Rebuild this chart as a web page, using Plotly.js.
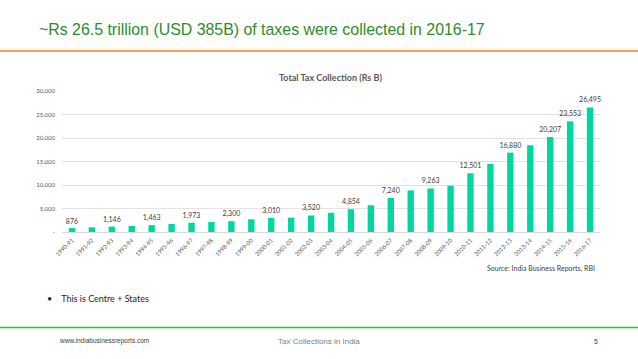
<!DOCTYPE html>
<html>
<head>
<meta charset="utf-8">
<script src="https://cdn.plot.ly/plotly-3.0.1.min.js"></script>
<style>
html,body{margin:0;padding:0;background:#fff;}
#chart{width:638px;height:359px;}
</style>
</head>
<body>
<div id="chart"></div>
<script>
const years = ["1990-91","1991-92","1992-93","1993-94","1994-95","1995-96","1996-97","1997-98","1998-99","1999-00",
  "2000-01","2001-02","2002-03","2003-04","2004-05","2005-06","2006-07","2007-08","2008-09","2009-10",
  "2010-11","2011-12","2012-13","2013-14","2014-15","2015-16","2016-17"];
const taxRsB = [876,1000,1146,1300,1463,1720,1973,2150,2300,2700,
  3010,3050,3520,4080,4854,5700,7240,8850,9263,9850,
  12501,14500,16880,18450,20207,23553,26495];
const labelled = [true,false,true,false,true,false,true,false,true,false,
  true,false,true,false,true,false,true,false,true,false,
  true,false,true,false,true,true,true];
const yTickVals = [0,5000,10000,15000,20000,25000,30000];
const yTickText = ["-","5,000","10,000","15,000","20,000","25,000","30,000"];

const barText = taxRsB.map((v,i)=> labelled[i] ? v.toLocaleString('en-US') : "");

// plot area pixels: x 62..600, y 91..232
const L=62, R=600, T=91, B=232;
const px = x => (x-L)/(R-L);
const py = y => (B-y)/(B-T);

const trace = {
  type:'bar', x:years, y:taxRsB, text:barText, textposition:'outside', constraintext:'none',
  textfont:{family:'Lato, Open Sans, sans-serif', size:7, color:'#404040'},
  marker:{color:'#00D7A0'}, cliponaxis:false, hoverinfo:'none'
};

const layout = {
  width:638, height:359,
  margin:{l:L, r:638-R, t:T, b:359-B, pad:0},
  paper_bgcolor:'#ffffff', plot_bgcolor:'#ffffff',
  showlegend:false, bargap:0.68,
  font:{family:'Lato, Open Sans, sans-serif', color:'#595959'},
  xaxis:{type:'category', tickangle:-45, tickfont:{size:5.8, color:'#595959'},
    showgrid:false, showline:false, ticks:'', automargin:false, ticklabelstandoff:3},
  yaxis:{range:[0,30000], tickvals:yTickVals, ticktext:yTickText,
    tickfont:{size:6, color:'#595959'}, showgrid:true, gridcolor:'#e3e3e3', gridwidth:1,
    zeroline:true, zerolinecolor:'#d9d9d9', zerolinewidth:1, showline:false, ticks:'',
    ticklabelstandoff:6, automargin:false},
  shapes:[
    {type:'line', xref:'paper', yref:'paper', x0:px(0), x1:px(638), y0:py(51), y1:py(51), line:{color:'#FFA04A', width:2}},
    {type:'line', xref:'paper', yref:'paper', x0:px(0), x1:px(638), y0:py(327.5), y1:py(327.5), line:{color:'#22CC22', width:1.5}}
  ],
  annotations:[
    {xref:'paper', yref:'paper', x:px(37), y:py(30), xanchor:'left', yanchor:'middle', showarrow:false,
      text:'~Rs 26.5 trillion (USD 385B) of taxes were collected in 2016-17',
      font:{family:'Liberation Sans, Arial, sans-serif', size:15.9, color:'#2E8B2E'}},
    {xref:'paper', yref:'paper', x:px(330), y:py(77), xanchor:'center', yanchor:'middle', showarrow:false,
      text:'<b>Total Tax Collection (Rs B)</b>',
      font:{family:'Lato, Open Sans, sans-serif', size:9, color:'#595959'}},
    {xref:'paper', yref:'paper', x:px(597), y:py(268), xanchor:'right', yanchor:'middle', showarrow:false,
      text:'Source: India Business Reports, RBI',
      font:{family:'Lato, Open Sans, sans-serif', size:7, color:'#404040'}},
    {xref:'paper', yref:'paper', x:px(45), y:py(298), xanchor:'left', yanchor:'middle', showarrow:false,
      text:'•&nbsp;&nbsp;&nbsp;&nbsp;This is Centre + States',
      font:{family:'Lato, Open Sans, sans-serif', size:9, color:'#262626'}},
    {xref:'paper', yref:'paper', x:px(57), y:py(341), xanchor:'left', yanchor:'middle', showarrow:false,
      text:'www.indiabusinessreports.com',
      font:{family:'Liberation Sans, Arial, sans-serif', size:6.5, color:'#404040'}},
    {xref:'paper', yref:'paper', x:px(319), y:py(341), xanchor:'center', yanchor:'middle', showarrow:false,
      text:'Tax Collections in India',
      font:{family:'Liberation Sans, Arial, sans-serif', size:8, color:'#808080'}},
    {xref:'paper', yref:'paper', x:px(600), y:py(341), xanchor:'right', yanchor:'middle', showarrow:false,
      text:'5',
      font:{family:'Liberation Sans, Arial, sans-serif', size:7, color:'#404040'}}
  ]
};

Plotly.newPlot('chart', [trace], layout, {displayModeBar:false, staticPlot:true});
</script>
</body>
</html>
